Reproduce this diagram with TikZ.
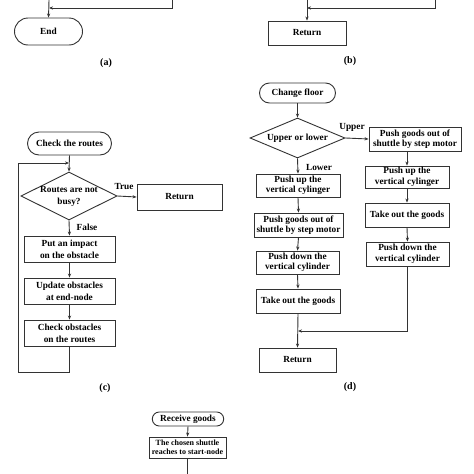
\documentclass[tikz,border=0pt]{standalone}
\usepackage{fontspec}
\setmainfont{Liberation Serif}
\usetikzlibrary{shapes.misc,shapes.geometric,arrows.meta}
\definecolor{lncol}{HTML}{333333}
\tikzset{
  base/.style={draw=lncol, line width=0.9pt, fill=white, align=center, inner sep=0.5pt, font=\bfseries\fontsize{9.3}{10.5}\selectfont},
  box/.style={base, rectangle},
  term/.style={base, rounded rectangle},
  dia/.style={draw=lncol, line width=0.9pt, diamond, inner sep=0pt},
  lbl/.style={font=\bfseries\fontsize{9.3}{10.5}\selectfont, inner sep=0pt},
  subcap/.style={font=\bfseries\fontsize{10}{11}\selectfont, inner sep=0pt},
  arr/.style={draw=lncol, line width=0.9pt, -{Stealth[length=4pt,width=3.2pt]}},
  plainline/.style={draw=lncol, line width=0.9pt}
}
\begin{document}
\begin{tikzpicture}[x=1pt,y=-1pt]
\useasboundingbox[fill=white] (0,0) rectangle (474,474);
% (a)
\coordinate (a1) at (49,0);
\coordinate (a2) at (172,0);
\coordinate (aj) at (49,8);
\node[term, minimum width=69, minimum height=27] (aend) at (48.5,31.5) {End};
\draw[arr] (a2) |- (aj);
\draw[arr] (a1) -- (aend.north);
\node[subcap] (capa) at (106,63) {(a)};
% (b)
\coordinate (b1) at (307,0);
\coordinate (b2) at (435,0);
\coordinate (bj) at (307,8);
\node[box, minimum width=78, minimum height=24] (bret) at (307,33) {Return};
\draw[arr] (b2) |- (bj);
\draw[arr] (b1) -- (bret.north);
\node[subcap] (capb) at (350,61) {(b)};
% (c)
\node[term, minimum width=85, minimum height=23] (ct) at (69.5,143.5) {Check the routes};
\node[dia, minimum width=96, minimum height=48] (cdia) at (69,196) {};
\node[lbl, align=center, font=\bfseries\fontsize{9.3}{12}\selectfont] (cdiat) at (69,196) {Routes are not\\busy?};
\node[box, minimum width=85, minimum height=26] (cret) at (179.5,197) {Return};
\node[box, minimum width=91, minimum height=26, font=\bfseries\fontsize{9.3}{12}\selectfont] (c1) at (69.5,249) {Put an impact\\on the obstacle};
\node[box, minimum width=91, minimum height=26, font=\bfseries\fontsize{9.3}{12}\selectfont] (c2) at (69.5,291) {Update obstacles\\at end-node};
\node[box, minimum width=91, minimum height=26, font=\bfseries\fontsize{9.3}{12}\selectfont] (c3) at (69.5,333) {Check obstacles\\on the routes};
\coordinate (cj) at (69,163);
\coordinate (cb) at (18,372);
\draw[arr] (ct.south) -- (cdia.north);
\draw[arr] (c3.south) |- (cb) |- (cj);
\draw[arr] (cdia.east) -- (cret.west);
\draw[arr] (cdia.south) -- (c1.north);
\draw[arr] (c1.south) -- (c2.north);
\draw[arr] (c2.south) -- (c3.north);
\node[lbl] (ctrue) at (124,187) {True};
\node[lbl] (cfalse) at (87,227) {False};
\node[subcap] (capc) at (105,388) {(c)};
% (d)
\node[term, minimum width=77, minimum height=20] (cf) at (297.5,93) {Change floor};
\node[dia, minimum width=95, minimum height=40] (ddia) at (297.5,138) {};
\node[lbl] (ddiat) at (297.5,138) {Upper or lower};
\node[box, minimum width=92, minimum height=24] (r1) at (415,139) {Push goods out of\\shuttle by step motor};
\node[box, minimum width=84, minimum height=22] (r2) at (407,177) {Push up the\\vertical cylinger};
\node[box, minimum width=84, minimum height=24] (r3) at (407,215) {Take out the goods};
\node[box, minimum width=83, minimum height=24] (r4) at (407.5,254) {Push down the\\vertical cylinder};
\node[box, minimum width=84, minimum height=23] (l1) at (298,185.5) {Push up the\\vertical cylinger};
\node[box, minimum width=89, minimum height=24] (l2) at (298.5,225) {Push goods out of\\shuttle by step motor};
\node[box, minimum width=83, minimum height=23] (l3) at (297.5,262.5) {Push down the\\vertical cylinder};
\node[box, minimum width=84, minimum height=24] (l4) at (298,301) {Take out the goods};
\node[box, minimum width=77, minimum height=24] (dret) at (297.5,360) {Return};
\coordinate (dj) at (298,331);
\draw[arr] (cf.south) -- (ddia.north);
\draw[arr] (ddia.east) -- (r1.west);
\draw[arr] (ddia.south) -- (l1.north);
\draw[arr] (r2.north |- r1.south) -- (r2.north);
\draw[arr] (r2.south) -- (r3.north);
\draw[arr] (r3.south) -- (r4.north);
\draw[arr] (l1.south) -- (l2.north);
\draw[arr] (l2.south) -- (l3.north);
\draw[arr] (l3.south) -- (l4.north);
\draw[arr] (r4.south) |- (dj);
\draw[arr] (l4.south) -- (dret.north);
\node[lbl] (dup) at (352,127) {Upper};
\node[lbl] (dlow) at (319,167) {Lower};
\node[subcap] (capd) at (350,387) {(d)};
% (e)
\node[term, minimum width=72, minimum height=14, inner sep=0.3pt, font=\bfseries\fontsize{9.3}{10}\selectfont] (rg) at (188,419) {Receive goods};
\node[box, minimum width=77, minimum height=21, inner sep=0.3pt, font=\bfseries\fontsize{8}{9}\selectfont] (es) at (187.5,447.5) {The chosen shuttle\\reaches to start-node};
\coordinate (ee) at (187.5,474);
\draw[arr] (rg.south) -- (es.north);
\draw[plainline] (es.south) -- (ee);
\end{tikzpicture}
\end{document}
